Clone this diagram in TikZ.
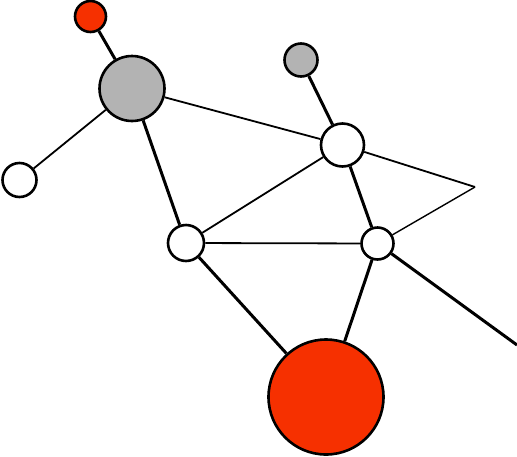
\documentclass[tikz,border=0pt]{standalone}
\begin{document}
\begin{tikzpicture}[x=1pt,y=-1pt,
  vtx/.style={circle,draw=black,line width=2.6pt,inner sep=0pt,minimum size=#1},
  redv/.style={fill={rgb,255:red,246;green,48;blue,0}},
  greyv/.style={fill={rgb,255:red,179;green,179;blue,179}},
  whitev/.style={fill=white},
  thickedge/.style={line width=3pt},
  thinedge/.style={line width=1.8pt},
  finedge/.style={line width=1.4pt}]
\useasboundingbox (0,0) rectangle (517,456);
\node[vtx=31pt,redv] (r1) at (90.5,16.5) {};
\node[vtx=65pt,greyv] (g1) at (132,88.5) {};
\node[vtx=34pt,whitev] (w1) at (19.5,180) {};
\node[vtx=33pt,greyv] (g2) at (301,60) {};
\node[vtx=43pt,whitev] (w2) at (342.5,145) {};
\node[vtx=36pt,whitev] (w3) at (186,243) {};
\node[vtx=32pt,whitev] (w4) at (377.5,243.5) {};
\node[vtx=115pt,redv] (r2) at (326,397) {};
\coordinate (c) at (475,187);
\coordinate (e) at (517,345);
\draw[thickedge] (r1) -- (g1);
\draw[thinedge] (g1) -- (w1);
\draw[thinedge] (g1) -- (w2);
\draw[thickedge] (g1) -- (w3);
\draw[thickedge] (g2) -- (w2);
\draw[thinedge] (w2) -- (w3);
\draw[thickedge] (w2) -- (w4);
\draw[thinedge] (w2) -- (c);
\draw[finedge] (c) -- (w4);
\draw[thinedge] (w3) -- (w4);
\draw[thickedge] (w3) -- (r2);
\draw[thickedge] (w4) -- (r2);
\draw[thickedge] (w4) -- (e);
\end{tikzpicture}
\end{document}
